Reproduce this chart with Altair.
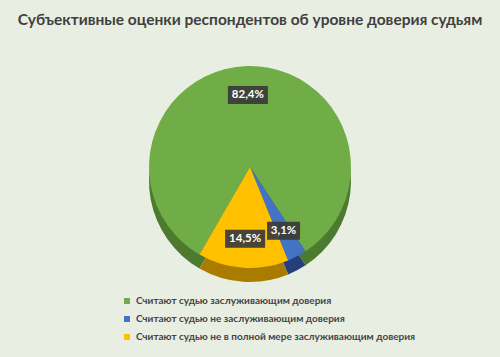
import math
import altair as alt
import pandas as pd

categories = [
    "Считают судью заслуживающим доверия",
    "Считают судью не заслуживающим доверия",
    "Считают судью не в полной мере заслуживающим доверия",
]
values = [82.4, 3.1, 14.5]
labels = ["82,4%", "3,1%", "14,5%"]
order = [0, 1, 2]

top_colors = ["#70ad47", "#4472c4", "#ffc000"]
side_colors = ["#4c7a2e", "#253f7a", "#a97c00"]

df = pd.DataFrame({"category": categories, "value": values, "label": labels, "order": order})

CX, CY, R, DEPTH = 250, 127, 101, 14
LR = 72
START = math.radians(210)

theta = alt.Theta("value:Q", stack=True, scale=alt.Scale(range=[START, START + 2 * math.pi]))
ordr = alt.Order("order:Q")

base = alt.Chart(df)

side = base.mark_arc(outerRadius=R).encode(
    theta=theta,
    order=ordr,
    color=alt.Color("category:N", scale=alt.Scale(domain=categories, range=side_colors), legend=None),
    x=alt.value(CX),
    y=alt.value(CY + DEPTH),
)

top = base.mark_arc(outerRadius=R).encode(
    theta=theta,
    order=ordr,
    color=alt.Color(
        "category:N",
        scale=alt.Scale(domain=categories, range=top_colors),
        legend=alt.Legend(
            title=None,
            orient="none",
            legendX=122,
            legendY=256,
            symbolType="square",
            symbolSize=36,
            symbolStrokeWidth=0,
            labelFontSize=10,
            labelFont="Lato",
            labelFontWeight="bold",
            labelColor="#444444",
            labelLimit=0,
            rowPadding=8,
        ),
    ),
    x=alt.value(CX),
    y=alt.value(CY),
)

lab = (
    base.transform_window(cum="sum(value)", sort=[alt.SortField("order")], frame=[None, 0])
    .transform_joinaggregate(total="sum(value)")
    .transform_calculate(mid=f"{START} + 2*PI*(datum.cum - datum.value/2)/datum.total")
    .transform_calculate(
        px=f"{CX} + {LR}*sin(datum.mid)",
        py=f"{CY} - {LR}*cos(datum.mid)",
        w="7*length(datum.label) + 5",
    )
    .transform_calculate(
        x1="datum.px - datum.w/2",
        x2="datum.px + datum.w/2",
        y1="datum.py - 9",
        y2="datum.py + 9",
    )
)

boxes = lab.mark_rect(color="#3a3a3a", opacity=0.92).encode(
    x=alt.X("x1:Q", scale=None),
    x2="x2:Q",
    y=alt.Y("y1:Q", scale=None),
    y2="y2:Q",
)

texts = lab.mark_text(color="white", fontSize=11.5, fontWeight="bold", font="Lato").encode(
    x=alt.X("px:Q", scale=None),
    y=alt.Y("py:Q", scale=None),
    text="label:N",
)

chart = (
    alt.layer(side, top, boxes, texts)
    .resolve_scale(color="independent")
    .properties(
        width=500,
        height=317,
        padding={"top": 40, "left": 0, "right": 0, "bottom": 0},
        autosize="none",
        background="#e9eee2",
        title=alt.Title(
            "Субъективные оценки респондентов об уровне доверия судьям",
            font="Lato",
            fontSize=15.5,
            fontWeight="bold",
            color="#404040",
            anchor="middle",
            offset=12,
        ),
    )
    .configure_view(stroke=None)
)

chart.save("out.html", embed_options={"renderer": "svg", "actions": False})
